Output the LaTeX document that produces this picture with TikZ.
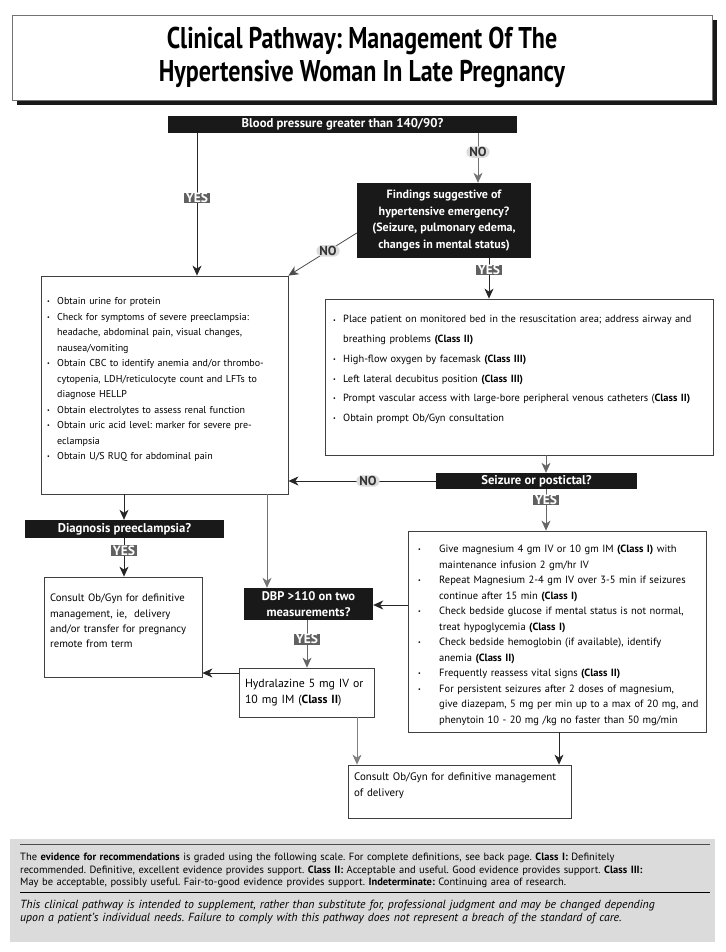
\documentclass[tikz,border=0pt]{standalone}
\usepackage{fontspec}
\setmainfont{PT Sans}
\newfontfamily\titlefont[FakeStretch=0.8]{PT Sans Bold}
\usetikzlibrary{arrows.meta,shadows}
\frenchspacing

\newcommand{\bitem}[1]{\par\noindent\hangindent=#1\hangafter=1\makebox[#1][l]{\raisebox{0.15ex}{\fontsize{6}{6}\selectfont\textbullet}}}

\tikzset{
  qbar/.style={fill=black!90, text=white, font=\fontsize{12.7}{16.7}\selectfont\bfseries, inner sep=0pt, align=center},
  infobox/.style={draw=black!75, line width=0.8pt, fill=white, inner sep=0pt},
  boxtext/.style={anchor=north west, inner sep=0pt, align=left},
  yeslbl/.style={fill=black!62, text=white, font=\fontsize{13.5}{14}\selectfont\bfseries, inner xsep=2pt, inner ysep=0.5pt},
  nolbl/.style={fill=black!14, text=black!80, font=\fontsize{13}{13.5}\selectfont\bfseries, rounded corners=6pt, inner xsep=3pt, inner ysep=1pt},
  arr/.style={draw=black!85, line width=0.8pt, -{Stealth[length=10pt,width=9pt,inset=3pt]}},
}

\begin{document}
\begin{tikzpicture}[x=1pt,y=-1pt]
\useasboundingbox (0,0) rectangle (725,952);

% title
\node[draw=black!55, line width=0.8pt, fill=white, minimum width=700pt, minimum height=85pt,
  drop shadow={shadow xshift=5pt,shadow yshift=-5pt,opacity=1,fill=black!90},
  align=center, font=\titlefont\fontsize{30}{33}\selectfont] (title) at (362,57.5)
  {Clinical Pathway: Management Of The\\Hypertensive Woman In Late Pregnancy};

% questions
\node[qbar, minimum width=349pt, minimum height=17pt] (bp) at (342.5,124.5) {Blood pressure greater than 140/90?};
\node[qbar, minimum width=174pt, minimum height=75pt, font=\fontsize{12}{16.7}\selectfont\bfseries] (find) at (444,220.5)
  {Findings suggestive of\\hypertensive emergency?\\(Seizure, pulmonary edema,\\changes in mental status)};
\node[qbar, minimum width=201pt, minimum height=16pt] (szq) at (536.5,481) {Seizure or postictal?};
\node[qbar, minimum width=199pt, minimum height=18pt] (dx) at (124.5,529) {Diagnosis preeclampsia?};
\node[qbar, minimum width=129pt, minimum height=32pt, font=\fontsize{12.5}{16}\selectfont\bfseries] (dbp) at (308.5,604)
  {DBP >110 on two\\measurements?};

% boxes
\node[infobox, minimum width=247pt, minimum height=218pt] (lab) at (164.5,385) {};
\node[boxtext, text width=240pt, font=\fontsize{10}{15.5}\selectfont] (labtxt) at (47,289) {%
\bitem{10pt}Obtain urine for protein
\bitem{10pt}Check for symptoms of severe preeclampsia:\newline headache, abdominal pain, visual changes,\newline nausea/vomiting
\bitem{10pt}Obtain CBC to identify anemia and/or thrombo-\newline cytopenia, LDH/reticulocyte count and LFTs to\newline diagnose HELLP
\bitem{10pt}Obtain electrolytes to assess renal function
\bitem{10pt}Obtain uric acid level: marker for severe pre-\newline eclampsia
\bitem{10pt}Obtain U/S RUQ for abdominal pain\par};

\node[infobox, minimum width=388pt, minimum height=156pt] (place) at (519,377) {};
\node[boxtext, text width=382pt, font=\fontsize{10.4}{19.7}\selectfont] (placetxt) at (333,303) {%
\bitem{10pt}Place patient on monitored bed in the resuscitation area; address airway and\newline breathing problems \textbf{(Class II)}
\bitem{10pt}High-flow oxygen by facemask \textbf{(Class III)}
\bitem{10pt}Left lateral decubitus position \textbf{(Class III)}
\bitem{10pt}Prompt vascular access with large-bore peripheral venous catheters (\textbf{Class II)}
\bitem{10pt}Obtain prompt Ob/Gyn consultation\par};

\node[infobox, minimum width=298pt, minimum height=201pt] (sz) at (557,631.5) {};
\node[boxtext, text width=292pt, font=\fontsize{10.5}{15.5}\selectfont] (sztxt) at (418,537) {%
\bitem{21pt}Give magnesium 4 gm IV or 10 gm IM \textbf{(Class I)} with\newline maintenance infusion 2 gm/hr IV
\bitem{21pt}Repeat Magnesium 2-4 gm IV over 3-5 min if seizures\newline continue after 15 min \textbf{(Class I)}
\bitem{21pt}Check bedside glucose if mental status is not normal,\newline treat hypoglycemia \textbf{(Class I)}
\bitem{21pt}Check bedside hemoglobin (if available), identify\newline anemia \textbf{(Class II)}
\bitem{21pt}Frequently reassess vital signs \textbf{(Class II)}
\bitem{21pt}For persistent seizures after 2 doses of magnesium,\newline give diazepam, 5 mg per min up to a max of 20 mg, and\newline phenytoin 10 - 20 mg /kg no faster than 50 mg/min\par};

\node[infobox, minimum width=158pt, minimum height=100pt] (consult) at (123,627) {};
\node[boxtext, text width=150pt, font=\fontsize{10.7}{15.3}\selectfont] (consulttxt) at (50,594)
  {Consult Ob/Gyn for definitive\\management, ie,\ \ delivery\\and/or transfer for pregnancy\\remote from term};

\node[infobox, minimum height=49pt, text width=123pt, inner xsep=6pt, align=left,
  font=\fontsize{11.8}{16}\selectfont] (hyd) at (306.5,692.5)
  {Hydralazine 5 mg IV or\\10 mg IM (\textbf{Class II})};

\node[infobox, minimum width=223pt, minimum height=53pt] (final) at (459.5,791.5) {};
\node[boxtext, text width=215pt, font=\fontsize{10.9}{16}\selectfont] (finaltxt) at (354,773)
  {Consult Ob/Gyn for definitive management\\of delivery};

% connectors
\coordinate (xa) at (197,0);
\coordinate (xb) at (478,0);
\coordinate (xc) at (489,0);
\coordinate (xd) at (546,0);
\coordinate (xe) at (124,0);
\coordinate (xf) at (267,0);
\coordinate (xg) at (307,0);
\coordinate (xh) at (357,0);
\coordinate (xi) at (559,0);
\coordinate (ya) at (0,605);
\coordinate (yb) at (0,673);

\draw[arr] (bp.south -| xa) -- node[yeslbl, pos=0.455] {YES} (lab.north -| xa);
\draw[arr, draw=black!55] (bp.south -| xb) -- node[nolbl, pos=0.38] {NO} (find.north -| xb);
\draw[arr, draw=black!70] ([yshift=-12.5pt]find.west) -- node[nolbl, pos=0.42] {NO} (lab.north east);
\draw[arr] (find.south -| xc) -- node[yeslbl, pos=0.29] {YES} (place.north -| xc);
\draw[arr, draw=black!60] (place.south -| xd) -- (szq.north -| xd);
\draw[arr] (szq.west) -- node[nolbl, pos=0.46] {NO} (lab.east |- szq.west);
\draw[arr, draw=black!60] (szq.south -| xd) -- node[yeslbl, pos=0.26] {YES} (sz.north -| xd);
\draw[arr] (lab.south -| xe) -- (dx.north -| xe);
\draw[arr] (dx.south -| xe) -- node[yeslbl, pos=0.33] {YES} (consult.north -| xe);
\draw[arr, draw=black!55] (lab.south -| xf) -- (dbp.north -| xf);
\draw[arr] (sz.west |- ya) -- (dbp.east |- ya);
\draw[arr, draw=black!60] (dbp.south -| xg) -- node[yeslbl, pos=0.4] {YES} (hyd.north -| xg);
\draw[arr] (hyd.west |- yb) -- (consult.east |- yb);
\draw[arr, draw=black!50] (hyd.south -| xh) -- (final.north -| xh);
\draw[arr] (sz.south -| xi) -- (final.north -| xi);

% footer
\fill[black!14] (10,839) rectangle (715,942);
\draw[black!70, line width=0.8pt] (20,844) -- (710,844);
\draw[black, line width=0.8pt] (20,892) -- (710,892);
\node[boxtext, text width=690pt, font=\fontsize{10.5}{12.5}\selectfont] (evid) at (20,853)
  {The \textbf{evidence for recommendations} is graded using the following scale. For complete definitions, see back page. \textbf{Class I:} Definitely\\
   recommended. Definitive, excellent evidence provides support. \textbf{Class II:} Acceptable and useful. Good evidence provides support. \textbf{Class III:}\\
   May be acceptable, possibly useful. Fair-to-good evidence provides support. \textbf{Indeterminate:} Continuing area of research.};
\node[boxtext, text width=690pt, font=\fontsize{11.8}{13}\selectfont\itshape] (disclaim) at (20,900)
  {This clinical pathway is intended to supplement, rather than substitute for, professional judgment and may be changed depending\\
   upon a patient’s individual needs. Failure to comply with this pathway does not represent a breach of the standard of care.};
\end{tikzpicture}
\end{document}
